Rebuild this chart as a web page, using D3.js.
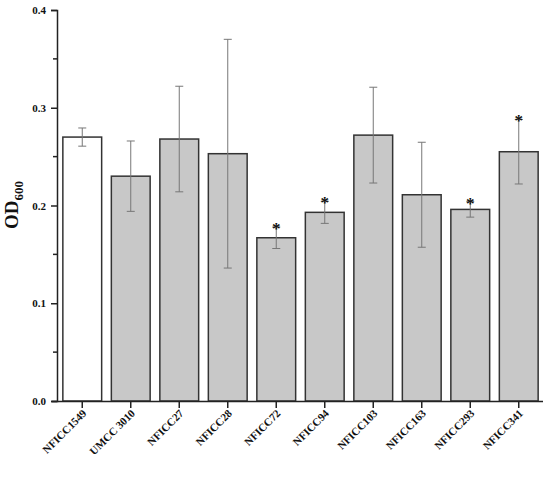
<!DOCTYPE html>
<html>
<head>
<meta charset="utf-8">
<script src="https://cdn.jsdelivr.net/npm/d3@7"></script>
<style>
  body { margin: 0; background: #fff; }
  svg text { font-family: "Liberation Serif", "Times New Roman", serif; font-weight: bold; }
</style>
</head>
<body>
<svg id="chart" width="550" height="477"></svg>
<script>
// strains, mean OD600 and error (SD)
const strains = ['NFICC1549', 'UMCC 3010', 'NFICC27', 'NFICC28', 'NFICC72',
                 'NFICC94', 'NFICC103', 'NFICC163', 'NFICC293', 'NFICC341']
const means = [0.270, 0.230, 0.268, 0.253, 0.167, 0.193, 0.272, 0.211, 0.196, 0.255]
const errors = [0.0093, 0.036, 0.054, 0.117, 0.011, 0.0113, 0.049, 0.0537, 0.0079, 0.033]
const significant = [false, false, false, false, true, true, false, false, true, true]
const yTicks = [0, 0.1, 0.2, 0.3, 0.4]

const data = strains.map((s, i) => ({ name: s, mean: means[i], err: errors[i], sig: significant[i], ctrl: i === 0 }))

const svg = d3.select('#chart')

const x = d3.scaleBand()
  .domain(strains)
  .range([58, 543])
  .paddingInner(0.2)
  .paddingOuter(0.1)

const y = d3.scaleLinear()
  .domain([0, 0.4])
  .range([401, 10])

// bars
svg.selectAll('.bar')
  .data(data)
  .enter()
  .append('rect')
  .attr('class', 'bar')
  .attr('x', d => x(d.name))
  .attr('y', d => y(d.mean))
  .attr('width', x.bandwidth())
  .attr('height', d => y(0) - y(d.mean))
  .attr('fill', d => d.ctrl ? '#ffffff' : '#c8c8c8')
  .attr('stroke', '#333')
  .attr('stroke-width', 1.5)

// error bars
const eb = svg.append('g')
  .attr('stroke', '#777')
  .attr('stroke-width', 1)
data.forEach(d => {
  const cx = x(d.name) + x.bandwidth() / 2
  eb.append('line').attr('x1', cx).attr('x2', cx).attr('y1', y(d.mean - d.err)).attr('y2', y(d.mean + d.err))
  eb.append('line').attr('x1', cx - 4).attr('x2', cx + 4).attr('y1', y(d.mean + d.err)).attr('y2', y(d.mean + d.err))
  eb.append('line').attr('x1', cx - 4).attr('x2', cx + 4).attr('y1', y(d.mean - d.err)).attr('y2', y(d.mean - d.err))
})

// significance stars
svg.selectAll('.star')
  .data(data.filter(d => d.sig))
  .enter()
  .append('text')
  .attr('class', 'star')
  .attr('x', d => x(d.name) + x.bandwidth() / 2)
  .attr('y', d => y(d.mean + d.err) + 7)
  .attr('text-anchor', 'middle')
  .attr('font-size', 17)
  .attr('fill', '#111')
  .text('*')

// y axis
const yAxis = svg.append('g')
  .attr('transform', 'translate(57,0)')
  .call(d3.axisLeft(y).tickValues(yTicks).tickFormat(d3.format('.1f')).tickSize(6).tickPadding(5))
yAxis.select('.domain').attr('stroke', '#222').attr('stroke-width', 1.5)
yAxis.selectAll('.tick line').attr('stroke', '#222').attr('stroke-width', 1.5)
yAxis.selectAll('.tick text').attr('font-size', 11).attr('fill', '#111')

// minor ticks
yAxis.selectAll('.minor')
  .data([0.05, 0.15, 0.25, 0.35])
  .enter()
  .append('line')
  .attr('class', 'minor')
  .attr('x1', -4).attr('x2', 0)
  .attr('y1', d => y(d)).attr('y2', d => y(d))
  .attr('stroke', '#222').attr('stroke-width', 1.5)

// x axis, labels drawn separately so they can be rotated
const xAxis = svg.append('g')
  .attr('transform', 'translate(0,401)')
  .call(d3.axisBottom(x).tickSize(7).tickSizeOuter(0).tickFormat(''))
xAxis.select('.domain').attr('d', 'M52,0.5H543').attr('stroke', '#222').attr('stroke-width', 1.5)
xAxis.selectAll('.tick line').attr('stroke', '#222').attr('stroke-width', 1.5)

svg.append('g').selectAll('.xlab')
  .data(strains)
  .enter()
  .append('text')
  .attr('class', 'xlab')
  .attr('x', 0)
  .attr('y', 0)
  .style('transform', d => 'translate(' + (x(d) + x.bandwidth() / 2 + 5) + 'px,414px) rotate(-45deg)')
  .style('transform-origin', '0 0')
  .attr('text-anchor', 'end')
  .attr('font-size', 11)
  .attr('fill', '#111')
  .text(d => d)

// y label OD600
const yl = svg.append('text')
  .attr('transform', 'translate(18,205) rotate(-90)')
  .attr('text-anchor', 'middle')
  .attr('font-size', 19)
  .attr('fill', '#111')
yl.append('tspan').text('OD')
yl.append('tspan').attr('font-size', 13).attr('dy', 5).text('600')
</script>
</body>
</html>
